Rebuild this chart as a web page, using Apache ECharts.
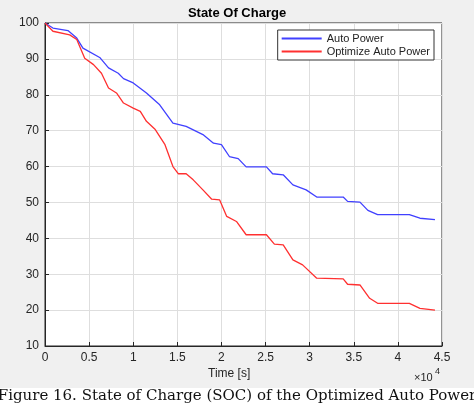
<!DOCTYPE html>
<html><head><meta charset="utf-8">
<script src="https://cdn.jsdelivr.net/npm/echarts@6/dist/echarts.min.js"></script>
<style>html,body{margin:0;padding:0;background:#fff}#c{width:474px;height:405px}</style>
</head><body><div id="c"></div>
<script>
// time in units of 1e4 s, SOC in %
const autoPower = [[0,100],[0.09,98.6],[0.26,97.9],[0.36,95.8],[0.43,93],[0.62,90.4],[0.72,87.5],[0.83,86],[0.89,84.5],[1.0,83.3],[1.15,80.5],[1.3,77.2],[1.45,72.1],[1.6,71.2],[1.79,68.9],[1.91,66.5],[2.0,66.1],[2.09,62.8],[2.19,62.2],[2.28,59.9],[2.51,59.9],[2.58,58],[2.7,57.7],[2.81,54.9],[2.96,53.5],[3.08,51.5],[3.38,51.5],[3.43,50.3],[3.57,50.1],[3.66,47.8],[3.77,46.6],[4.13,46.6],[4.25,45.6],[4.42,45.2]];
const optimizePower = [[0,100],[0.09,97.7],[0.28,96.7],[0.36,95.4],[0.45,90.2],[0.55,88.4],[0.64,86],[0.72,81.9],[0.81,80.5],[0.89,77.7],[1.0,76.3],[1.08,75.4],[1.15,72.6],[1.25,70.3],[1.36,66.1],[1.45,60],[1.51,58],[1.6,58],[1.68,56.3],[1.79,53.5],[1.89,50.9],[1.98,50.7],[2.06,46.1],[2.17,44.7],[2.28,41],[2.51,41],[2.6,38.4],[2.7,38.2],[2.81,34],[2.92,32.6],[3.08,28.9],[3.38,28.7],[3.43,27.2],[3.57,27],[3.68,23.3],[3.77,21.9],[4.13,21.9],[4.25,20.5],[4.42,20]];

const chart = echarts.init(document.getElementById('c'));
const lbl = {color:'#262626', fontSize:12, fontFamily:'Liberation Sans'};
chart.setOption({
  backgroundColor:'#fff',
  graphic:[
    {type:'rect', z:-10, shape:{x:0,y:0,width:474,height:388}, style:{fill:'#f0f0f0'}},
    {type:'text', left:'center', top:389, style:{text:'Figure 16. State of Charge (SOC) of the Optimized Auto Power', font:'15px "DejaVu Serif"', fill:'#111'}},
    {type:'text', left:208, top:368, style:{text:'Time [s]', font:'12px "Liberation Sans"', fill:'#262626'}},
    {type:'text', left:414, top:372, style:{text:'×10', font:'11px "Liberation Sans"', fill:'#262626'}},
    {type:'text', left:435, top:367, style:{text:'4', font:'9px "Liberation Sans"', fill:'#262626'}}
  ],
  title:{text:'State Of Charge', left:'center', top:2, textStyle:{fontSize:13, fontWeight:'bold', color:'#000', fontFamily:'Liberation Sans'}},
  legend:{right:40, top:30, orient:'vertical', backgroundColor:'#fff', borderColor:'#333', borderWidth:1, padding:[3,4], itemGap:2, itemWidth:40, itemHeight:2, icon:'rect', textStyle:{fontSize:11, color:'#222', fontFamily:'Liberation Sans'}},
  grid:{left:45, right:32, top:23, bottom:59, backgroundColor:'#fff', show:true, borderColor:'#262626', borderWidth:1},
  xAxis:{type:'value', min:0, max:4.5, interval:0.5,
    axisLine:{lineStyle:{color:'#262626'}}, axisTick:{inside:true, length:4}, axisLabel:Object.assign({margin:6}, lbl),
    splitLine:{lineStyle:{color:'#dedede'}}},
  yAxis:{type:'value', min:10, max:100, interval:10, axisLine:{show:true, lineStyle:{color:'#262626'}}, axisTick:{show:true, inside:true, length:4},
    axisLabel:Object.assign({margin:6}, lbl), splitLine:{lineStyle:{color:'#dedede'}}},
  series:[
    {name:'Auto Power', type:'line', data:autoPower, showSymbol:false, lineStyle:{color:'#4040ff', width:1.3}, itemStyle:{color:'#4040ff'}},
    {name:'Optimize Auto Power', type:'line', data:optimizePower, showSymbol:false, lineStyle:{color:'#ff3030', width:1.3}, itemStyle:{color:'#ff3030'}}
  ]
});
</script></body></html>
